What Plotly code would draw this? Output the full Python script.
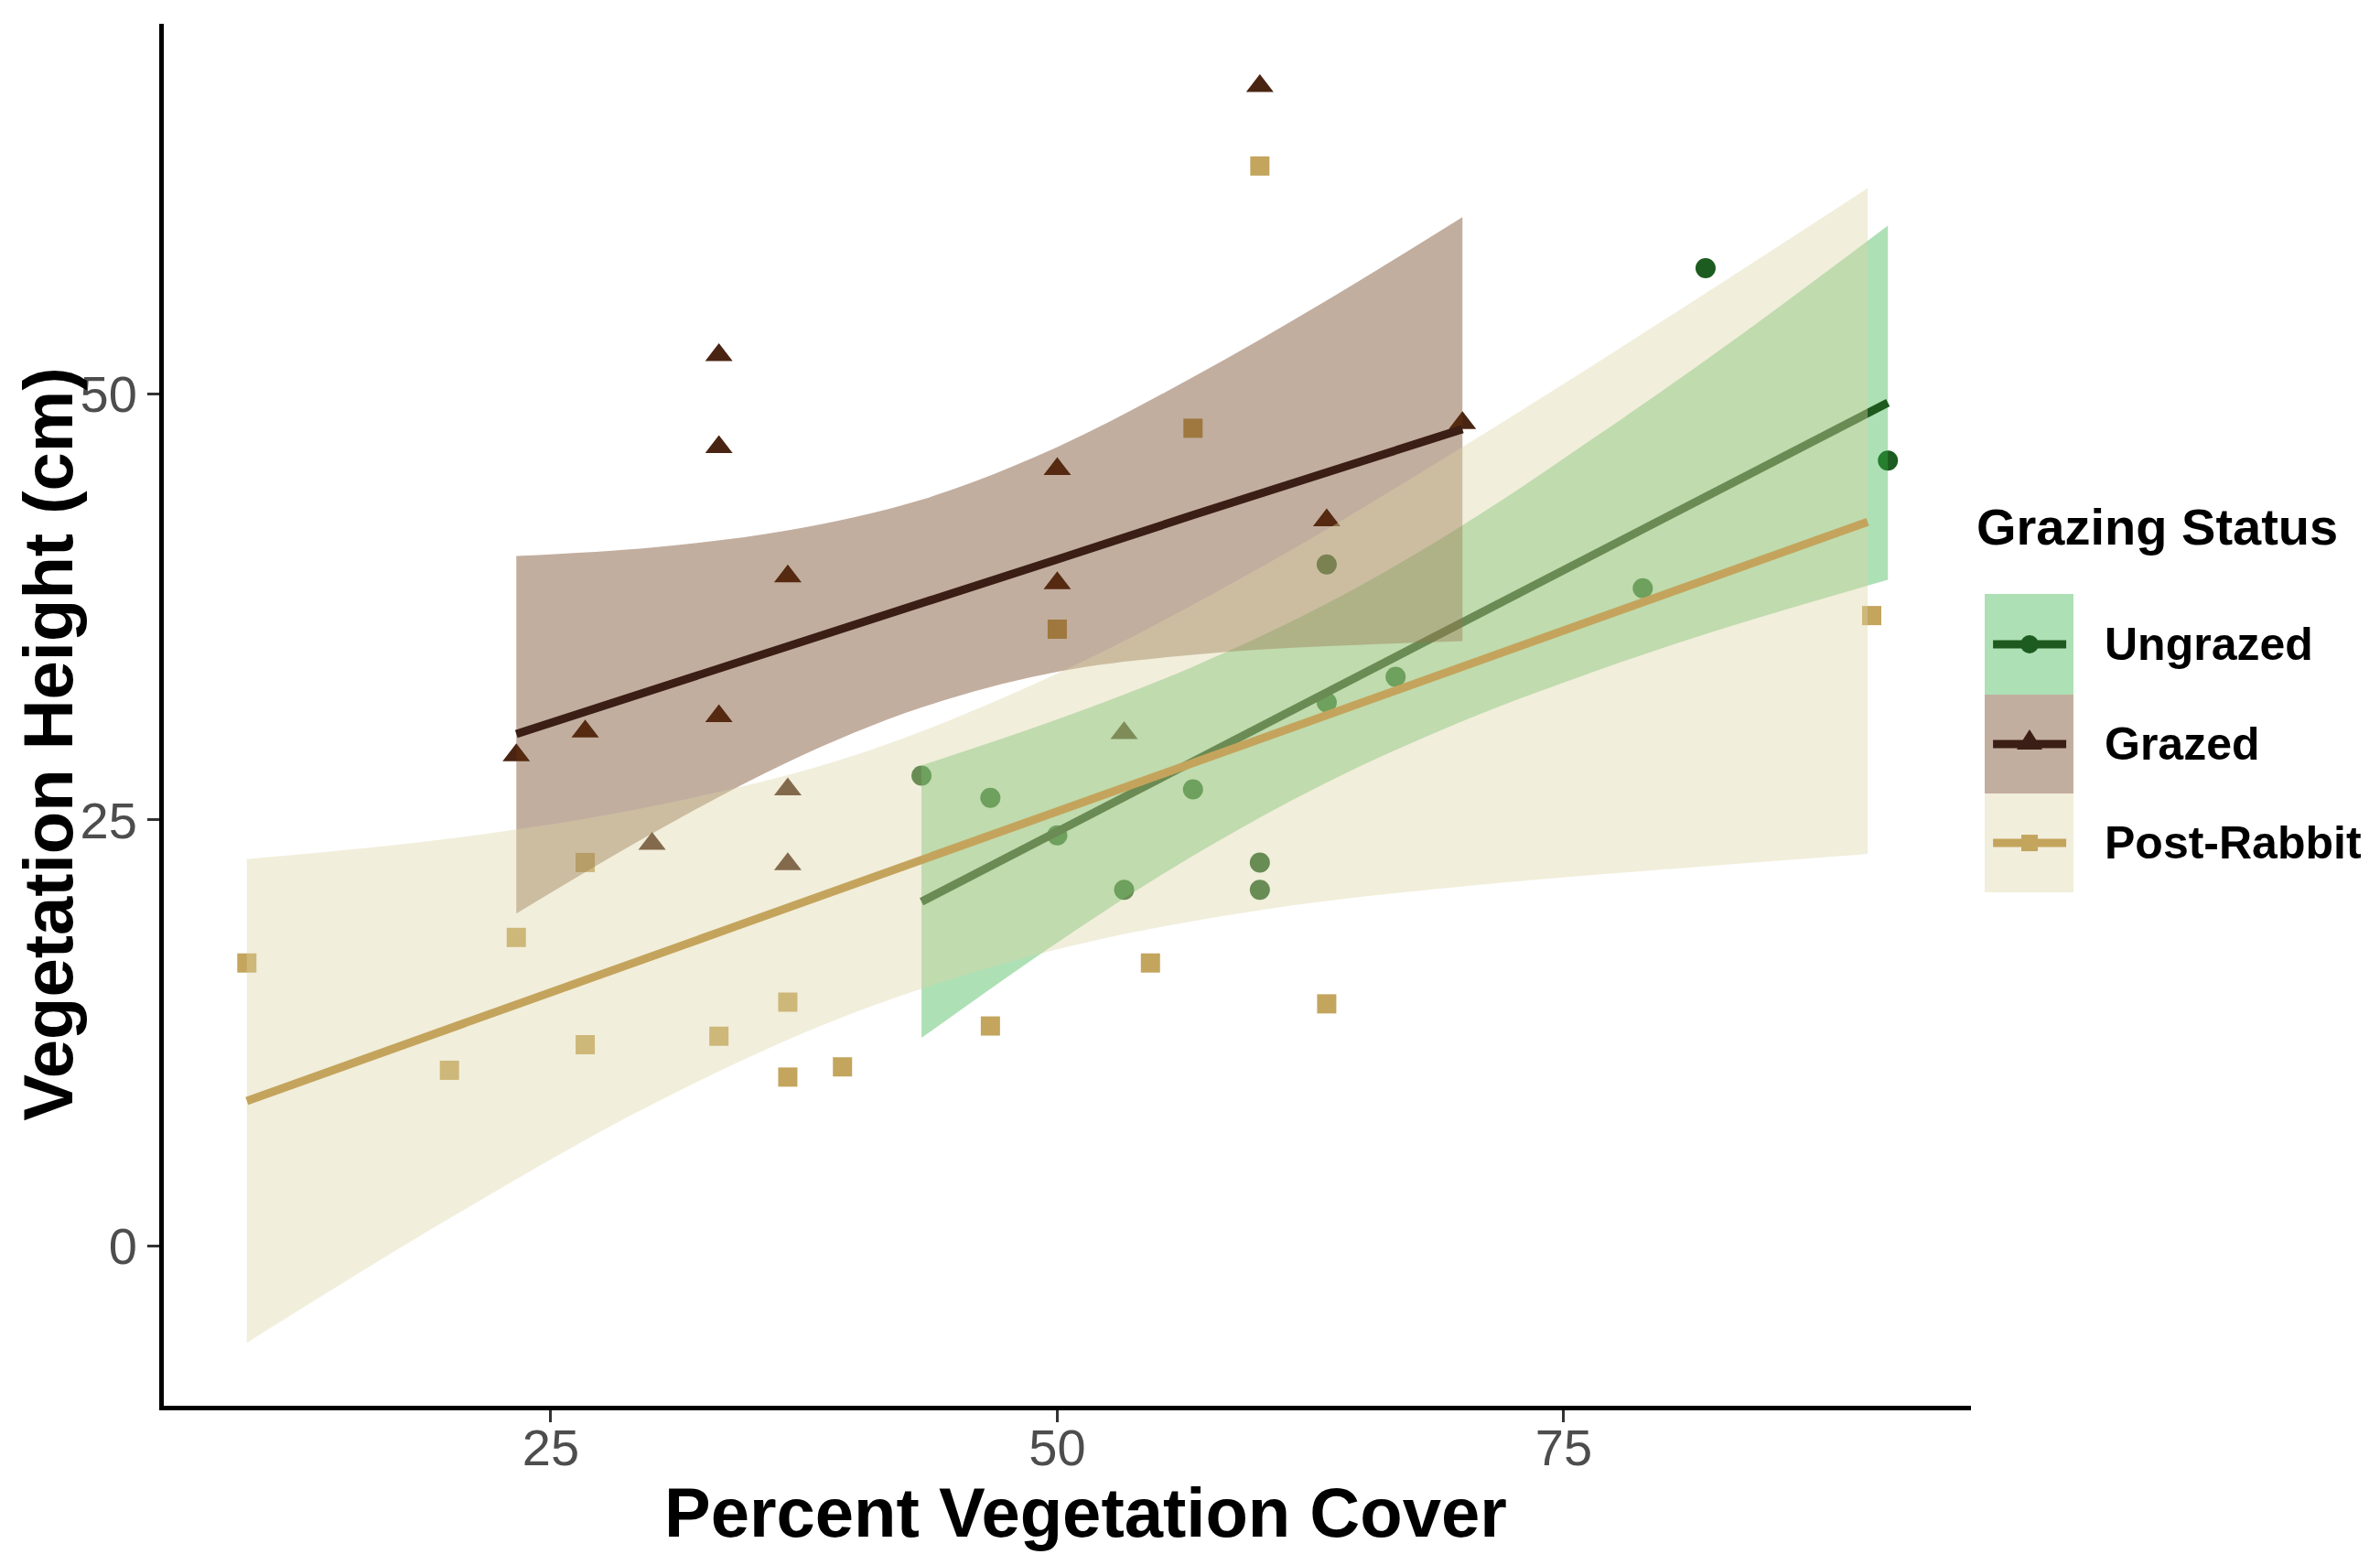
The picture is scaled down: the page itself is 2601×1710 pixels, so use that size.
import plotly.graph_objects as go

# observed points (percent cover, height in cm)
ungrazed_x = [43.3, 46.7, 50.0, 53.3, 56.7, 60.0, 60.0, 63.3, 63.3, 66.7, 78.9, 82.0, 91.0]
ungrazed_y = [27.6, 26.3, 24.1, 20.9, 26.8, 22.5, 20.9, 40.0, 31.9, 33.4, 38.6, 57.4, 46.1]

grazed_x = [23.3, 26.7, 30.0, 33.3, 33.3, 33.3, 36.7, 36.7, 36.7, 50.0, 50.0, 53.3, 60.0, 63.3, 70.0]
grazed_y = [28.8, 30.2, 23.6, 52.3, 46.9, 31.1, 39.3, 26.8, 22.4, 45.6, 38.9, 30.1, 68.1, 42.6, 48.3]

rabbit_x = [10.0, 20.0, 23.3, 26.7, 26.7, 33.3, 36.7, 36.7, 39.4, 46.7, 50.0, 54.6, 56.7, 60.0, 63.3, 90.2]
rabbit_y = [16.6, 10.3, 18.1, 22.5, 11.8, 12.3, 14.3, 9.9, 10.5, 12.9, 36.2, 16.6, 48.0, 63.4, 14.2, 37.0]

# fitted lines and confidence bands
ungrazed_fx = [43.3, 50, 56.7, 63.3, 70, 76.7, 83.3, 91]
ungrazed_fit = [20.2, 24.3, 28.4, 32.5, 36.6, 40.7, 44.7, 49.5]
ungrazed_hi = [28.2, 30.9, 34.0, 37.7, 42.3, 47.6, 53.1, 59.9]
ungrazed_lo = [12.2, 17.8, 22.9, 27.2, 30.8, 33.8, 36.4, 39.1]

grazed_fx = [23.3, 30, 36.7, 43.3, 50, 56.7, 63.3, 70]
grazed_fit = [30.05, 32.6, 35.2, 37.7, 40.3, 42.9, 45.4, 47.95]
grazed_hi = [40.5, 41.0, 42.0, 43.8, 46.9, 51.0, 55.5, 60.4]
grazed_lo = [19.5, 24.2, 28.4, 31.6, 33.7, 34.7, 35.2, 35.5]

rabbit_fx = [10, 20, 30, 40, 50, 60, 70, 80, 90]
rabbit_fit = [8.5, 12.75, 17.0, 21.25, 25.5, 29.75, 34.0, 38.25, 42.5]
rabbit_hi = [22.7, 23.9, 25.8, 28.8, 33.6, 39.8, 46.9, 54.4, 62.1]
rabbit_lo = [-5.7, 1.6, 8.3, 13.7, 17.4, 19.7, 21.1, 22.1, 23.0]

groups = ['Ungrazed', 'Grazed', 'Post-Rabbit']
FONT = 'Liberation Sans, Arial, sans-serif'

styles = {
    'Ungrazed': dict(pt='#1d5c20', line='#1e5a1e', fill='rgba(53,178,70,0.4)', symbol='circle', size=22),
    'Grazed': dict(pt='#4a2412', line='#3b1e15', fill='rgba(102,52,15,0.4)', symbol='triangle-up', size=26),
    'Post-Rabbit': dict(pt='#c4a55e', line='#c4a45c', fill='rgba(220,212,165,0.4)', symbol='square', size=21),
}
points = {
    'Ungrazed': (ungrazed_x, ungrazed_y),
    'Grazed': (grazed_x, grazed_y),
    'Post-Rabbit': (rabbit_x, rabbit_y),
}
smooths = {
    'Ungrazed': (ungrazed_fx, ungrazed_fit, ungrazed_hi, ungrazed_lo),
    'Grazed': (grazed_fx, grazed_fit, grazed_hi, grazed_lo),
    'Post-Rabbit': (rabbit_fx, rabbit_fit, rabbit_hi, rabbit_lo),
}

fig = go.Figure()

# points first, so the ribbons tint them like in ggplot
for g in groups:
    s = styles[g]
    px, py = points[g]
    fig.add_trace(go.Scatter(x=px, y=py, mode='markers', name=g,
                             marker=dict(symbol=s['symbol'], size=s['size'], color=s['pt'])))

for g in groups:
    s = styles[g]
    fx, fit, hi, lo = smooths[g]
    fig.add_trace(go.Scatter(x=fx, y=lo, mode='lines', line=dict(width=0, shape='spline'),
                             hoverinfo='skip'))
    fig.add_trace(go.Scatter(x=fx, y=hi, mode='lines', line=dict(width=0, shape='spline'),
                             fill='tonexty', fillcolor=s['fill'], hoverinfo='skip'))
    fig.add_trace(go.Scatter(x=fx, y=fit, mode='lines', line=dict(color=s['line'], width=9)))

axis_style = dict(showgrid=False, zeroline=False, showline=True, linecolor='black', linewidth=5,
                  ticks='outside', ticklen=13, tickwidth=3, tickcolor='#333333',
                  tickfont=dict(family=FONT, size=56, color='#4d4d4d'))

# page body adds an 8px offset, so left/top margins are trimmed by 8
fig.update_layout(
    width=2601, height=1710,
    margin=dict(l=171, r=455, t=18, b=182),
    plot_bgcolor='white', paper_bgcolor='white',
    showlegend=False,
    xaxis=dict(range=[5.9, 95.1], tickvals=[25, 50, 75], ticklabelstandoff=-20, **axis_style),
    yaxis=dict(range=[-9.4, 71.75], tickvals=[0, 25, 50], **axis_style),
)

# axis titles
fig.add_annotation(text='<b>Percent Vegetation Cover</b>', xref='paper', yref='paper',
                   x=0.51, y=-0.077, xanchor='center', yanchor='middle', showarrow=False,
                   font=dict(family=FONT, size=76, color='black'))
fig.add_annotation(text='<b>Vegetation Height (cm)</b>', xref='paper', yref='paper',
                   x=-0.0638, y=0.479, xanchor='center', yanchor='middle', showarrow=False,
                   textangle=-90, font=dict(family=FONT, size=76, color='black'))

# legend drawn by hand (ggplot style keys)
fig.add_annotation(text='<b>Grazing Status</b>', xref='paper', yref='paper',
                   x=1.002, y=0.6364, xanchor='left', yanchor='middle', showarrow=False,
                   font=dict(family=FONT, size=56, color='black'))

key_top = [0.5874, 0.5146, 0.4430]
key_bot = [0.5146, 0.4430, 0.3715]
for g, top, bot in zip(groups, key_top, key_bot):
    s = styles[g]
    mid = (top + bot) / 2
    fig.add_shape(type='rect', xref='paper', yref='paper', x0=1.0076, x1=1.0567, y0=bot, y1=top,
                  fillcolor=s['fill'], line=dict(width=0), layer='above')
    fig.add_shape(type='line', xref='paper', yref='paper', x0=1.0122, x1=1.0527, y0=mid, y1=mid,
                  line=dict(color=s['line'], width=9), layer='above')
    if s['symbol'] == 'circle':
        fig.add_shape(type='circle', xref='paper', yref='paper', xsizemode='pixel', ysizemode='pixel',
                      xanchor=1.0324, yanchor=mid, x0=-10, x1=10, y0=-10, y1=10,
                      fillcolor=s['pt'], line=dict(width=0), layer='above')
    elif s['symbol'] == 'square':
        fig.add_shape(type='rect', xref='paper', yref='paper', xsizemode='pixel', ysizemode='pixel',
                      xanchor=1.0324, yanchor=mid, x0=-9, x1=9, y0=-9, y1=9,
                      fillcolor=s['pt'], line=dict(width=0), layer='above')
    else:
        fig.add_shape(type='path', xref='paper', yref='paper', xsizemode='pixel', ysizemode='pixel',
                      xanchor=1.0324, yanchor=mid, path='M -14,-6 L 14,-6 L 0,16 Z',
                      fillcolor=s['line'], line=dict(width=0), layer='above')
    fig.add_annotation(text='<b>' + g + '</b>', xref='paper', yref='paper',
                       x=1.0729, y=mid, xanchor='left', yanchor='middle', showarrow=False,
                       font=dict(family=FONT, size=50, color='black'))

fig.write_html('out.html')
